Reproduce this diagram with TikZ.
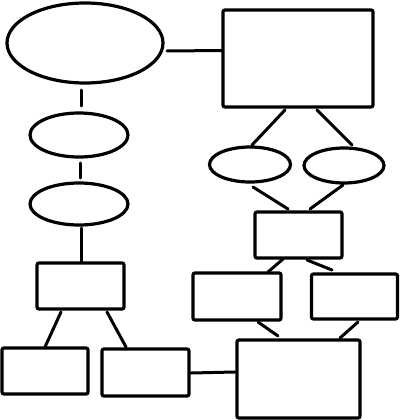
\documentclass[tikz,border=0pt]{standalone}
\usetikzlibrary{shapes.geometric,calc}
\tikzset{
  shp/.style={draw=black,line width=3.2pt,inner sep=0pt,outer sep=0pt},
  oval/.style={shp,ellipse},
  box/.style={shp,rectangle,rounded corners=2pt},
  link/.style={draw=black,line width=3pt,line cap=round}
}
\begin{document}
\begin{tikzpicture}[x=1pt,y=-1pt]
\useasboundingbox[fill=white] (0,0) rectangle (400,420);
% left column
\node[oval,minimum width=156pt,minimum height=80pt] (E1) at (85,43) {};
\node[oval,minimum width=98pt,minimum height=44pt] (E2) at (79,135) {};
\node[oval,minimum width=98pt,minimum height=42pt] (E3) at (79,204) {};
\node[box,minimum width=87pt,minimum height=46pt] (RL) at (80.5,286) {};
\node[box,minimum width=86pt,minimum height=46pt] (B1) at (45,371) {};
\node[box,minimum width=87pt,minimum height=47pt] (B2) at (145.5,372.5) {};
% right column
\node[box,minimum width=150pt,minimum height=97pt] (R1) at (298,58.5) {};
\node[oval,minimum width=81pt,minimum height=35pt] (EL) at (250,164.5) {};
\node[oval,minimum width=80pt,minimum height=35pt] (ER) at (344,165.5) {};
\node[box,minimum width=87pt,minimum height=46pt] (R2) at (298.5,235) {};
\node[box,minimum width=88pt,minimum height=47pt] (R3) at (237,296.5) {};
\node[box,minimum width=86pt,minimum height=45pt] (R4) at (354.5,296.5) {};
\node[box,minimum width=123pt,minimum height=78pt] (R5) at (298.5,379) {};
% connectors
\draw[link] ($(E1.east)+(4,8)$) -- ($(R1.west)+(-1,-8)$);
\draw[link] ($(E1.south)+(-4,7)$) -- ($(E2.north)+(2,-7)$);
\draw[link] ($(E2.south)+(1,6)$) -- ($(E3.north)+(1,-5)$);
\draw[link] ($(E3.south)+(2,3)$) -- ($(RL.north)+(0.5,-1)$);
\draw[link] ($(RL.south)+(-19.5,3)$) -- ($(B1.north)+(0,-1)$);
\draw[link] ($(RL.south)+(26.5,3)$) -- ($(B2.north)+(-19.5,-2)$);
\draw[link] ($(B2.east)+(2,0.5)$) -- ($(R5.west)+(-2,-7)$);
\draw[link] ($(R1.south)+(-13,3)$) -- ($(EL.north)+(2,-2)$);
\draw[link] ($(R1.south)+(19,3)$) -- ($(ER.north)+(8,-3)$);
\draw[link] ($(EL.south)+(3,5)$) -- ($(R2.north)+(-10.5,-3)$);
\draw[link] ($(ER.south)+(-1,2)$) -- ($(R2.north)+(11.5,-3)$);
\draw[link] ($(R2.south)+(-15.5,1)$) -- ($(R3.north)+(31,-1)$);
\draw[link] ($(R2.south)+(8.5,2)$) -- ($(R4.north)+(-22.5,-4)$);
\draw[link] ($(R3.south)+(21,2)$) -- ($(R5.north)+(-20.5,-4)$);
\draw[link] ($(R4.south)+(3.5,3)$) -- ($(R5.north)+(41.5,-2)$);
\end{tikzpicture}
\end{document}
